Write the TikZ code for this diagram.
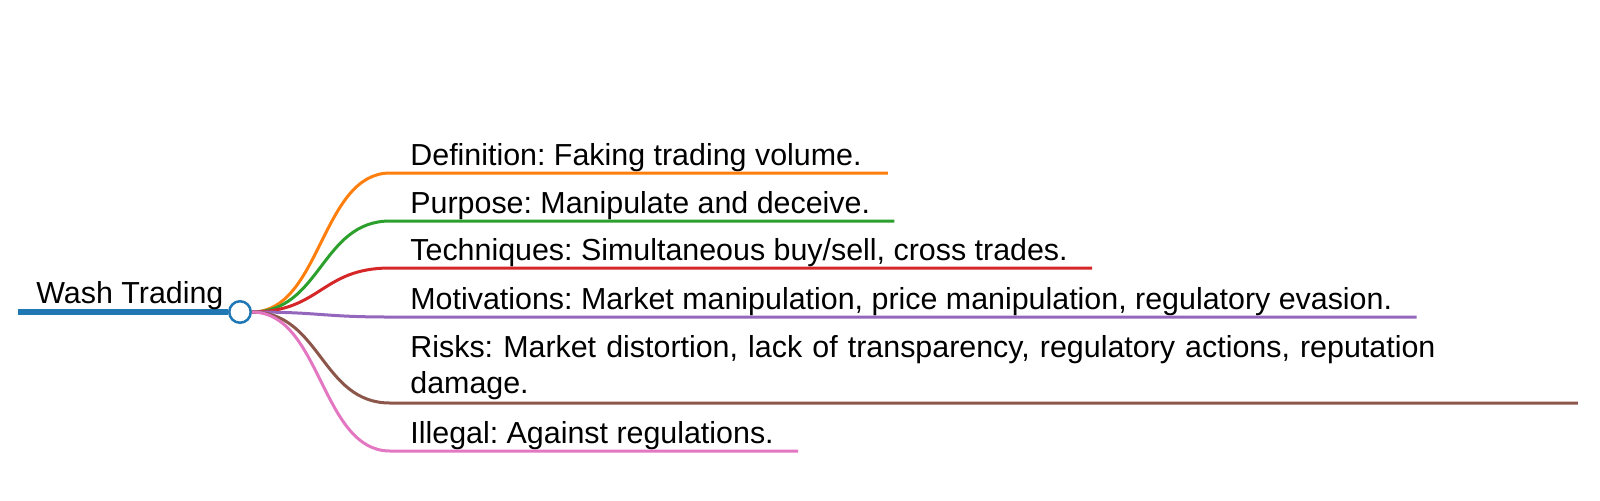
\documentclass[tikz,border=0pt]{standalone}
\usepackage{fontspec}
\setmainfont{Liberation Sans}
\usetikzlibrary{calc, positioning}
\usepackage{xcolor}
\definecolor{mmblue}{HTML}{1F77B4}
\definecolor{mmorange}{HTML}{FF7F0E}
\definecolor{mmgreen}{HTML}{2CA02C}
\definecolor{mmred}{HTML}{D62728}
\definecolor{mmpurple}{HTML}{9467BD}
\definecolor{mmbrown}{HTML}{8C564B}
\definecolor{mmpink}{HTML}{E377C2}
\frenchspacing

\begin{document}
\begin{tikzpicture}[x=0.5pt, y=-0.5pt,
    every node/.style={font=\fontsize{15.2pt}{18pt}\selectfont, inner sep=0pt},
    leaf/.style={anchor=base west},
    branch/.style={line width=1.5pt}]
  \useasboundingbox (0,0) rectangle (1600,500);

  % root line and its bubble
  \coordinate (start) at (18,312);
  \draw[mmblue, line width=3pt] (start) -- (228,312);
  \node[circle, draw=mmblue, fill=white, line width=1.25pt, minimum size=10.75pt] (hub) at (240,312) {};
  \node[leaf] (root) at (36,303) {Wash Trading};

  % leaves
  \node[leaf] (def) at (410,165) {Definition: Faking trading volume.};
  \node[leaf] (pur) at (410,213) {Purpose: Manipulate and deceive.};
  \node[leaf] (tec) at (410,260) {Techniques: Simultaneous buy/sell, cross trades.};
  \node[leaf] (mot) at (410,309) {Motivations: Market manipulation, price manipulation, regulatory evasion.};
  \node[leaf, text width=571.5pt, align=left] (ris) at (410,357) {Risks: Market distortion, lack of transparency, regulatory actions, reputation\\damage.};
  \node[leaf] (ill) at (410,443) {Illegal: Against regulations.};

  % branches: S-curve from the bubble, then the underline
  \draw[branch, mmorange] (hub.east) .. controls +(69,0) and +(-69,0) .. ($(def.base west)+(-20,8)$) -- ($(def.base east)+(26,8)$);
  \draw[branch, mmgreen] (hub.east) .. controls +(69,0) and +(-69,0) .. ($(pur.base west)+(-20,8)$) -- ($(pur.base east)+(24,8)$);
  \draw[branch, mmred] (hub.east) .. controls +(69,0) and +(-69,0) .. ($(tec.base west)+(-20,8)$) -- ($(tec.base east)+(24,8)$);
  \draw[branch, mmpurple] (hub.east) .. controls +(69,0) and +(-69,0) .. ($(mot.base west)+(-20,8)$) -- ($(mot.base east)+(24,8)$);
  \draw[branch, mmbrown] (hub.east) .. controls +(69,0) and +(-69,0) .. ($(ris.base west)+(-20,46)$) -- ($(ris.base east)+(24,46)$);
  \draw[branch, mmpink] (hub.east) .. controls +(69,0) and +(-69,0) .. ($(ill.base west)+(-20,8)$) -- ($(ill.base east)+(24,8)$);
\end{tikzpicture}
\end{document}
